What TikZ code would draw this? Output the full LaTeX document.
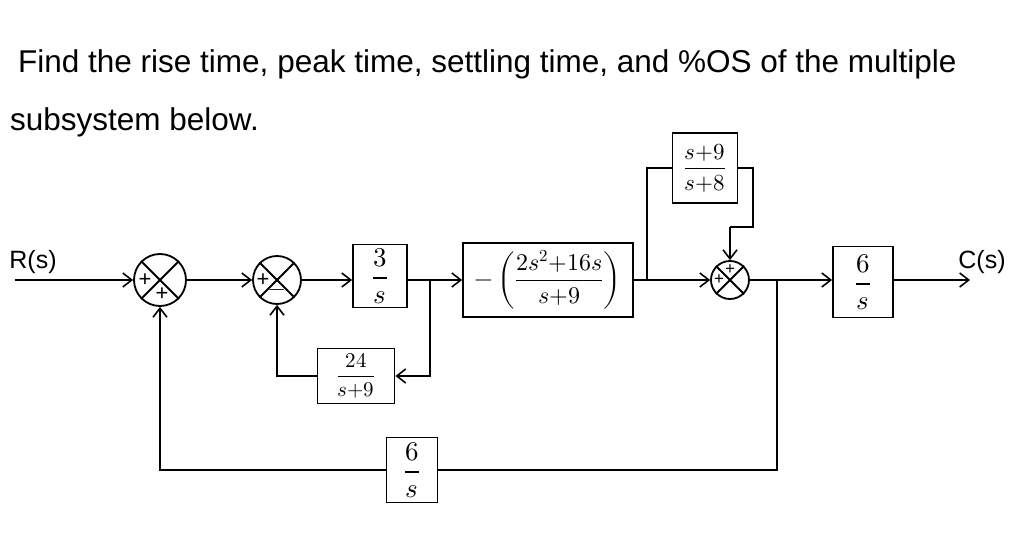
\documentclass[tikz,border=0pt]{standalone}
\usepackage{amsmath}
\usepackage{fontspec}
\usepackage{unicode-math}
\setmainfont{Liberation Sans}
\setmathfont{latinmodern-math.otf}
\usetikzlibrary{arrows.meta}
\begin{document}
\begin{tikzpicture}[x=1pt,y=-1pt,
  wire/.style={line width=1.8pt},
  arr/.style={wire,-{Straight Barb[length=9pt,width=14pt,line width=1.6pt]}},
  blk/.style={draw,line width=1.8pt,inner sep=0pt,font=\fontsize{27}{32}\selectfont},
  sumj/.style={draw,circle,line width=1.8pt,inner sep=0pt},
  sgn/.style={font=\fontsize{22}{22}\selectfont,inner sep=0pt},
  lbl/.style={font=\fontsize{25}{30}\selectfont,inner sep=0pt},
  ttl/.style={font=\fontsize{31.5}{36}\selectfont,inner sep=0pt,anchor=west}]
\useasboundingbox (0,0) rectangle (1024,553);
% title
\node[ttl] (t1) at (18,64) {Find the rise time, peak time, settling time, and \%OS of the multiple};
\node[ttl] (t2) at (10,122) {subsystem below.};
% summing junctions
\node[sumj,minimum size=52pt] (s1) at (160,280) {};
\node[sumj,minimum size=48pt] (s2) at (277,280) {};
\node[sumj,minimum size=38pt] (s3) at (730,280) {};
\foreach \s in {s1,s2,s3}{
  \draw[wire] (\s.north west) -- (\s.south east);
  \draw[wire] (\s.north east) -- (\s.south west);
}
\node[sgn] (s1a) at ([xshift=-15pt]s1.center) {+};
\node[sgn] (s1b) at ([xshift=2pt,yshift=-14pt]s1.center) {+};
\node[sgn] (s2a) at ([xshift=-14pt]s2.center) {+};
\node[sgn] (s2b) at ([yshift=-13pt]s2.center) {$-$};
\node[sgn,font=\fontsize{17}{17}\selectfont] (s3a) at ([xshift=-11pt]s3.center) {+};
\node[sgn,font=\fontsize{17}{17}\selectfont] (s3b) at ([yshift=10pt]s3.center) {+};
% blocks
\node[blk,minimum width=54pt,minimum height=63pt] (b1) at (380,276) {$\dfrac{3}{s}$};
\node[blk,minimum width=170pt,minimum height=74pt,font=\fontsize{24}{28}\selectfont] (b2) at (548,280) {$-\left(\dfrac{2s^2{+}16s}{s{+}9}\right)$};
\node[blk,minimum width=65pt,minimum height=70pt,font=\fontsize{23}{28}\selectfont] (b3) at (705,168) {$\dfrac{s{+}9}{s{+}8}$};
\node[blk,minimum width=60pt,minimum height=71pt] (b4) at (863,282) {$\dfrac{6}{s}$};
\node[blk,minimum width=77pt,minimum height=55pt,font=\fontsize{21}{26}\selectfont] (b5) at (356,376) {$\dfrac{24}{s{+}9}$};
\node[blk,minimum width=51pt,minimum height=65pt] (b6) at (412,470) {$\dfrac{6}{s}$};
% labels
\node[lbl] (R) at (33,262) {R(s)};
\node[lbl] (C) at (982,262) {C(s)};
% coordinates
\coordinate (in) at (15,280);
\coordinate (out) at (970,280);
\coordinate (p1) at (430,280);
\coordinate (p2) at (647,280);
\coordinate (p3) at (777,280);
\coordinate (q1) at (753,227);
% forward path
\draw[arr] (in) -- (s1.west);
\draw[arr] (s1.east) -- (s2.west);
\draw[arr] (s2.east) -- (s2.east -| b1.west);
\draw[arr] (b1.east |- p1) -- (b2.west |- p1);
\draw[arr] (b2.east |- p2) -- (s3.west);
\draw[arr] (s3.east) -- (s3.east -| b4.west);
\draw[arr] (b4.east |- out) -- (out);
% inner feedback
\draw[arr] (p1) |- (b5.east);
\draw[arr] (b5.west) -| (s2.south);
% feed-forward through (s+9)/(s+8)
\draw[wire] (p2) |- (b3.west);
\draw[wire] (b3.east) -| (q1) -- (q1 -| s3.north);
\draw[arr] (q1 -| s3.north) -- (s3.north);
% outer feedback
\draw[wire] (p3) |- (b6.east);
\draw[arr] (b6.west) -| (s1.south);
\end{tikzpicture}
\end{document}
